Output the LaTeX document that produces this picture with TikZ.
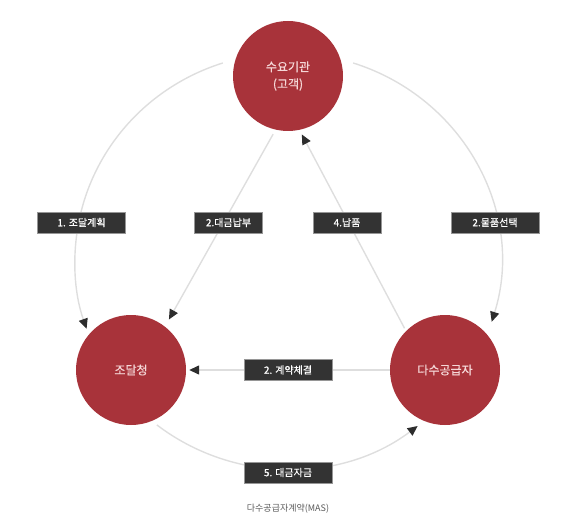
\documentclass[tikz,border=0pt]{standalone}
\usepackage{fontspec}
\setmainfont{Noto Sans CJK KR}
\newfontfamily\medfont[FakeBold=0.6]{Noto Sans CJK KR}
\usetikzlibrary{arrows.meta}
\definecolor{circred}{RGB}{168,51,58}
\definecolor{circtext}{RGB}{245,215,215}
\definecolor{linegray}{RGB}{222,222,222}
\definecolor{boxdark}{RGB}{51,51,51}
\definecolor{boxedge}{RGB}{150,150,150}
\definecolor{tipdark}{RGB}{45,45,45}
\definecolor{capgray}{RGB}{90,90,90}
\tikzset{
  party/.style={circle, fill=circred, minimum size=110pt, inner sep=0pt,
    text=circtext, align=center, font=\medfont\fontsize{12}{17}\selectfont},
  flow/.style={draw=linegray, line width=1.4pt,
    -{Triangle[length=10pt,width=9pt,color=tipdark]}},
  tag/.style={fill=boxdark, draw=boxedge, line width=0.5pt, text=white,
    minimum height=21pt, inner sep=0pt, font=\medfont\fontsize{10}{12}\selectfont},
  tagwide/.style={tag, minimum width=88pt},
  tagnarrow/.style={tag, minimum width=68pt},
}
\begin{document}
\begin{tikzpicture}[x=1pt,y=1pt]
\useasboundingbox (0,0) rectangle (580,531);
% parties
\node[party] (top) at (288,455) {수요기관\\(고객)};
\node[party] (left) at (131,161) {조달청};
\node[party] (right) at (445,161) {다수공급자};
% outer ring centre
\coordinate (O) at (288,270);
\path (O) ++(107.8:213 and 208) coordinate (a1s);
\path (O) ++(72.2:213 and 208) coordinate (a2s);
\path (O) ++(232:213 and 208) coordinate (a3s);
% outer arcs
\draw[flow] (a1s) arc[start angle=107.8, end angle=199, x radius=213, y radius=208];
\draw[flow] (a2s) arc[start angle=72.2, end angle=-17, x radius=213, y radius=208];
\draw[flow] (a3s) arc[start angle=232, end angle=307.5, x radius=213, y radius=208];
% inner lines
\draw[flow, shorten <=5pt, shorten >=8pt] (top.257) -- (left.52);
\draw[flow, shorten <=3pt, shorten >=5pt] (right.135) -- (top.282);
\draw[flow, shorten >=3pt] (right.west) -- (left.east);
% labels
\node[tagwide] (t1) at (81.5,308.5) {1. 조달계획};
\node[tagnarrow] (t2) at (228.5,308.5) {2.대금납부};
\node[tagnarrow] (t4) at (347,308.5) {4.납품};
\node[tagwide] (t3) at (495,308.5) {2.물품선택};
\node[tagwide] (t5) at (288,161) {2. 계약체결};
\node[tagwide] (t6) at (288,58.5) {5. 대금자금};
% caption
\node[text=capgray, font=\fontsize{9}{11}\selectfont] (cap) at (288,22) {다수공급자계약(MAS)};
\end{tikzpicture}
\end{document}
